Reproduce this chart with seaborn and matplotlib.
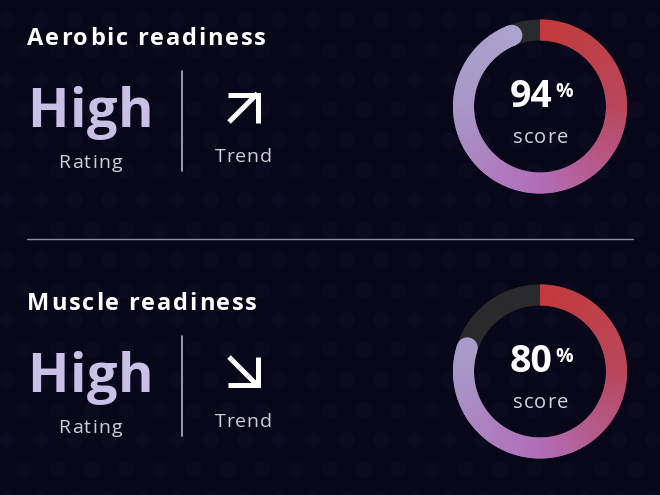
import numpy as np
import matplotlib.pyplot as plt
import seaborn as sns
from matplotlib.font_manager import FontProperties, findfont, get_font

# panel data
titles = ['Aerobic readiness', 'Muscle readiness']
ratings = ['High', 'High']
trends = ['up', 'down']
scores = [94, 80]

bg = '#08071a'
sns.set_theme(style='dark', rc={'axes.facecolor': bg, 'figure.facecolor': bg})
plt.rcParams['font.family'] = ['Open Sans', 'DejaVu Sans']

fig = plt.figure(figsize=(6.6, 4.95), dpi=100)
ax = fig.add_axes([0, 0, 1, 1])
ax.set_xlim(0, 660)
ax.set_ylim(495, 0)
ax.axis('off')


def spaced_text(x, y, s, size, track=0.0, ha='left', weight='normal', **kw):
    # place text glyph by glyph so letter spacing can be widened (1 data unit = 1 px)
    prop = FontProperties(family=['Open Sans', 'DejaVu Sans'], size=size, weight=weight)
    font = get_font(findfont(prop))
    font.set_size(size, 100)
    adv = [font.load_char(ord(ch)).linearHoriAdvance / 65536 for ch in s]
    total = sum(adv) + track * (len(s) - 1)
    pos = x - total / 2 if ha == 'center' else x
    for k, ch in enumerate(s):
        if ch != ' ':
            ax.text(pos, y, ch, ha='left', va='baseline', fontproperties=prop, **kw)
        pos += adv[k] + track


# faint dotted backdrop
gx, gy = np.meshgrid(np.arange(-10, 680, 34), np.arange(-10, 510, 30))
gx = gx + (np.arange(gx.shape[0])[:, None] % 2) * 17
sns.scatterplot(x=gx.ravel(), y=gy.ravel(), s=130, color='#121127', alpha=0.35,
                edgecolor='none', ax=ax, legend=False, zorder=0)

ring_cols = sns.blend_palette(['#c23a3a', '#b9475c', '#b26db8', '#a897c8', '#aca6cc'], 360)


def ring_poly(cx, cy, r_out, r_in, a0, a1, n=6):
    t = np.radians(np.linspace(a0, a1, n))
    xs = np.concatenate([cx + r_out * np.sin(t), cx + r_in * np.sin(t[::-1])])
    ys = np.concatenate([cy - r_out * np.cos(t), cy - r_in * np.cos(t[::-1])])
    return xs, ys


def donut(cx, cy, score):
    R, w = 87, 21
    xs, ys = ring_poly(cx, cy, R, R - w, 0, 360, 200)
    ax.fill(xs, ys, color='#2a2a2c', lw=0, zorder=2)
    end = score * 3.6
    n = int(end)
    for k in range(n):
        a0 = k * end / n
        a1 = (k + 1) * end / n
        xs, ys = ring_poly(cx, cy, R, R - w, a0, min(a1 + 0.6, end))
        ax.fill(xs, ys, color=ring_cols[int(a0)], lw=0, zorder=3)
    # rounded end cap
    rm = R - w / 2
    te = np.radians(end)
    cap = plt.Circle((cx + rm * np.sin(te), cy - rm * np.cos(te)), w / 2,
                     color=ring_cols[min(int(end), 359)], lw=0, zorder=4)
    ax.add_patch(cap)
    ax.text(cx + 12.5, cy + 0.5, f'{score}', ha='right', va='baseline', fontsize=27,
            fontweight='bold', color='white', zorder=5)
    ax.text(cx + 15, cy - 9.5, '%', ha='left', va='baseline', fontsize=14,
            fontweight='bold', color='white', zorder=5)
    spaced_text(cx + 0.5, cy + 36.5, 'score', 14.5, track=1.2, ha='center',
                color='#d6d5de', zorder=5)


arrow_kw = dict(color='white', lw=3.6, solid_capstyle='butt', solid_joinstyle='miter', zorder=5)

for i in range(2):
    off = i * 265
    spaced_text(27, 45 + off, titles[i], 17, track=1.8, weight='bold', color='white')
    spaced_text(27, 127 + off, ratings[i], 39, track=0.8, weight='bold', color='#c8c0e6')
    spaced_text(90.5, 168 + off, 'Rating', 14, track=1.4, ha='center', color='#cfced8')
    ax.plot([182, 182], [71 + off, 171 + off], color='#b5b3c2', lw=1.2)
    spaced_text(243, 162 + off, 'Trend', 14, track=0.8, ha='center', color='#cfced8')
    if trends[i] == 'up':
        ax.plot([229, 257.5], [122 + off, 93.5 + off], **arrow_kw)
        ax.plot([228, 257.5, 257.5], [94.5 + off, 94.5 + off, 123 + off], **arrow_kw)
    else:
        ax.plot([229, 257.5], [92 + off, 120.5 + off], **arrow_kw)
        ax.plot([228, 257.5, 257.5], [120 + off, 120 + off, 92 + off], **arrow_kw)
    donut(540, 106.5 + off, scores[i])

ax.plot([27, 633], [239, 239], color='#8f8d9d', lw=1)

fig.savefig('out.png', dpi=100, facecolor=bg)
